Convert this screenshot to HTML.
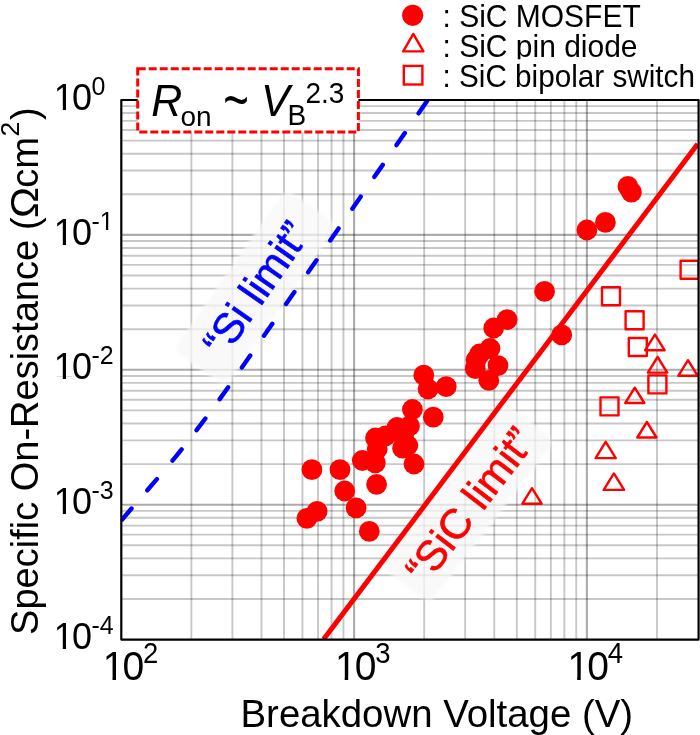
<!DOCTYPE html>
<html><head><meta charset="utf-8"><style>
html,body{margin:0;padding:0;background:#fff;width:700px;height:735px;overflow:hidden}
svg{display:block}
text{font-family:"Liberation Sans",Arial,sans-serif;fill:#000}
</style></head><body>
<svg width="700" height="735" viewBox="0 0 700 735">
<defs>
<filter id="glow" x="-30%" y="-60%" width="160%" height="220%"><feGaussianBlur stdDeviation="1.8"/></filter>
<clipPath id="plot"><rect x="121.3" y="100.0" width="576.7" height="539.6"/></clipPath>
</defs>
<rect width="700" height="735" fill="#fff"/>
<g id="grid">
<line x1="191.38" y1="100.0" x2="191.38" y2="639.6" stroke="#000" stroke-opacity="0.22" stroke-width="1.9"/>
<line x1="232.37" y1="100.0" x2="232.37" y2="639.6" stroke="#000" stroke-opacity="0.22" stroke-width="1.9"/>
<line x1="261.46" y1="100.0" x2="261.46" y2="639.6" stroke="#000" stroke-opacity="0.22" stroke-width="1.9"/>
<line x1="284.02" y1="100.0" x2="284.02" y2="639.6" stroke="#000" stroke-opacity="0.22" stroke-width="1.9"/>
<line x1="302.45" y1="100.0" x2="302.45" y2="639.6" stroke="#000" stroke-opacity="0.22" stroke-width="1.9"/>
<line x1="318.04" y1="100.0" x2="318.04" y2="639.6" stroke="#000" stroke-opacity="0.22" stroke-width="1.9"/>
<line x1="331.54" y1="100.0" x2="331.54" y2="639.6" stroke="#000" stroke-opacity="0.22" stroke-width="1.9"/>
<line x1="343.45" y1="100.0" x2="343.45" y2="639.6" stroke="#000" stroke-opacity="0.22" stroke-width="1.9"/>
<line x1="424.18" y1="100.0" x2="424.18" y2="639.6" stroke="#000" stroke-opacity="0.22" stroke-width="1.9"/>
<line x1="465.17" y1="100.0" x2="465.17" y2="639.6" stroke="#000" stroke-opacity="0.22" stroke-width="1.9"/>
<line x1="494.26" y1="100.0" x2="494.26" y2="639.6" stroke="#000" stroke-opacity="0.22" stroke-width="1.9"/>
<line x1="516.82" y1="100.0" x2="516.82" y2="639.6" stroke="#000" stroke-opacity="0.22" stroke-width="1.9"/>
<line x1="535.25" y1="100.0" x2="535.25" y2="639.6" stroke="#000" stroke-opacity="0.22" stroke-width="1.9"/>
<line x1="550.84" y1="100.0" x2="550.84" y2="639.6" stroke="#000" stroke-opacity="0.22" stroke-width="1.9"/>
<line x1="564.34" y1="100.0" x2="564.34" y2="639.6" stroke="#000" stroke-opacity="0.22" stroke-width="1.9"/>
<line x1="576.25" y1="100.0" x2="576.25" y2="639.6" stroke="#000" stroke-opacity="0.22" stroke-width="1.9"/>
<line x1="656.98" y1="100.0" x2="656.98" y2="639.6" stroke="#000" stroke-opacity="0.22" stroke-width="1.9"/>
<line x1="354.10" y1="100.0" x2="354.10" y2="639.6" stroke="#000" stroke-opacity="0.33" stroke-width="2.1"/>
<line x1="586.90" y1="100.0" x2="586.90" y2="639.6" stroke="#000" stroke-opacity="0.33" stroke-width="2.1"/>
<line x1="121.3" y1="598.99" x2="698.0" y2="598.99" stroke="#000" stroke-opacity="0.22" stroke-width="1.9"/>
<line x1="121.3" y1="575.24" x2="698.0" y2="575.24" stroke="#000" stroke-opacity="0.22" stroke-width="1.9"/>
<line x1="121.3" y1="558.38" x2="698.0" y2="558.38" stroke="#000" stroke-opacity="0.22" stroke-width="1.9"/>
<line x1="121.3" y1="545.31" x2="698.0" y2="545.31" stroke="#000" stroke-opacity="0.22" stroke-width="1.9"/>
<line x1="121.3" y1="534.63" x2="698.0" y2="534.63" stroke="#000" stroke-opacity="0.22" stroke-width="1.9"/>
<line x1="121.3" y1="525.60" x2="698.0" y2="525.60" stroke="#000" stroke-opacity="0.22" stroke-width="1.9"/>
<line x1="121.3" y1="517.77" x2="698.0" y2="517.77" stroke="#000" stroke-opacity="0.22" stroke-width="1.9"/>
<line x1="121.3" y1="510.87" x2="698.0" y2="510.87" stroke="#000" stroke-opacity="0.22" stroke-width="1.9"/>
<line x1="121.3" y1="464.09" x2="698.0" y2="464.09" stroke="#000" stroke-opacity="0.22" stroke-width="1.9"/>
<line x1="121.3" y1="440.34" x2="698.0" y2="440.34" stroke="#000" stroke-opacity="0.22" stroke-width="1.9"/>
<line x1="121.3" y1="423.48" x2="698.0" y2="423.48" stroke="#000" stroke-opacity="0.22" stroke-width="1.9"/>
<line x1="121.3" y1="410.41" x2="698.0" y2="410.41" stroke="#000" stroke-opacity="0.22" stroke-width="1.9"/>
<line x1="121.3" y1="399.73" x2="698.0" y2="399.73" stroke="#000" stroke-opacity="0.22" stroke-width="1.9"/>
<line x1="121.3" y1="390.70" x2="698.0" y2="390.70" stroke="#000" stroke-opacity="0.22" stroke-width="1.9"/>
<line x1="121.3" y1="382.87" x2="698.0" y2="382.87" stroke="#000" stroke-opacity="0.22" stroke-width="1.9"/>
<line x1="121.3" y1="375.97" x2="698.0" y2="375.97" stroke="#000" stroke-opacity="0.22" stroke-width="1.9"/>
<line x1="121.3" y1="329.19" x2="698.0" y2="329.19" stroke="#000" stroke-opacity="0.22" stroke-width="1.9"/>
<line x1="121.3" y1="305.44" x2="698.0" y2="305.44" stroke="#000" stroke-opacity="0.22" stroke-width="1.9"/>
<line x1="121.3" y1="288.58" x2="698.0" y2="288.58" stroke="#000" stroke-opacity="0.22" stroke-width="1.9"/>
<line x1="121.3" y1="275.51" x2="698.0" y2="275.51" stroke="#000" stroke-opacity="0.22" stroke-width="1.9"/>
<line x1="121.3" y1="264.83" x2="698.0" y2="264.83" stroke="#000" stroke-opacity="0.22" stroke-width="1.9"/>
<line x1="121.3" y1="255.80" x2="698.0" y2="255.80" stroke="#000" stroke-opacity="0.22" stroke-width="1.9"/>
<line x1="121.3" y1="247.97" x2="698.0" y2="247.97" stroke="#000" stroke-opacity="0.22" stroke-width="1.9"/>
<line x1="121.3" y1="241.07" x2="698.0" y2="241.07" stroke="#000" stroke-opacity="0.22" stroke-width="1.9"/>
<line x1="121.3" y1="194.29" x2="698.0" y2="194.29" stroke="#000" stroke-opacity="0.22" stroke-width="1.9"/>
<line x1="121.3" y1="170.54" x2="698.0" y2="170.54" stroke="#000" stroke-opacity="0.22" stroke-width="1.9"/>
<line x1="121.3" y1="153.68" x2="698.0" y2="153.68" stroke="#000" stroke-opacity="0.22" stroke-width="1.9"/>
<line x1="121.3" y1="140.61" x2="698.0" y2="140.61" stroke="#000" stroke-opacity="0.22" stroke-width="1.9"/>
<line x1="121.3" y1="129.93" x2="698.0" y2="129.93" stroke="#000" stroke-opacity="0.22" stroke-width="1.9"/>
<line x1="121.3" y1="120.90" x2="698.0" y2="120.90" stroke="#000" stroke-opacity="0.22" stroke-width="1.9"/>
<line x1="121.3" y1="113.07" x2="698.0" y2="113.07" stroke="#000" stroke-opacity="0.22" stroke-width="1.9"/>
<line x1="121.3" y1="106.17" x2="698.0" y2="106.17" stroke="#000" stroke-opacity="0.22" stroke-width="1.9"/>
<line x1="121.3" y1="504.70" x2="698.0" y2="504.70" stroke="#000" stroke-opacity="0.33" stroke-width="2.1"/>
<line x1="121.3" y1="369.80" x2="698.0" y2="369.80" stroke="#000" stroke-opacity="0.33" stroke-width="2.1"/>
<line x1="121.3" y1="234.90" x2="698.0" y2="234.90" stroke="#000" stroke-opacity="0.33" stroke-width="2.1"/>
</g>
<!-- glows -->
<g clip-path="url(#plot)">
<g transform="translate(224.6,359) rotate(-55.2)"><rect x="-22.4" y="-46.9" width="197" height="63.5" rx="9" fill="#f8f8f8" opacity="0.73" filter="url(#glow)"/></g>
<g transform="translate(425.9,586) rotate(-52.5)"><rect x="-12" y="-48.6" width="206" height="62.5" rx="9" fill="#f8f8f8" opacity="0.73" filter="url(#glow)"/></g>
</g>
<!-- Si limit dashed -->
<path d="M121.3,520.6 C140,498 165,471 189,440 S 223.6,393.6 229.4,385.5 L427.5,100.5" fill="none" stroke="#0000ff" stroke-width="4.4" stroke-linecap="round" stroke-dasharray="14.6 24.1" stroke-dashoffset="-1.5" clip-path="url(#plot)"/>
<!-- SiC limit -->
<line x1="323.6" y1="639.3" x2="697.7" y2="143.9" stroke="#ff0000" stroke-width="5" clip-path="url(#plot)"/>
<!-- rotated labels -->
<text transform="translate(224.6,359) rotate(-55.2)" font-size="42" style="fill:#0000ff;stroke:#0000ff;stroke-width:0.6">“Si limit”</text>
<text transform="translate(425.9,586) rotate(-52.5)" font-size="42" style="fill:#ff0000;stroke:#ff0000;stroke-width:0.6">“SiC limit”</text>
<!-- markers -->
<g fill="#ff0000" clip-path="url(#plot)">
<circle cx="311.9" cy="469.7" r="10.4"/>
<circle cx="340.0" cy="469.7" r="10.4"/>
<circle cx="344.7" cy="491.0" r="10.4"/>
<circle cx="356.1" cy="507.9" r="10.4"/>
<circle cx="369.3" cy="531.4" r="10.4"/>
<circle cx="306.9" cy="518.3" r="10.4"/>
<circle cx="317.1" cy="511.4" r="10.4"/>
<circle cx="376.6" cy="484.3" r="10.4"/>
<circle cx="362.3" cy="460.5" r="10.4"/>
<circle cx="375.3" cy="462.8" r="10.4"/>
<circle cx="375.5" cy="438.0" r="10.4"/>
<circle cx="385.5" cy="436.0" r="10.4"/>
<circle cx="377.2" cy="449.0" r="10.4"/>
<circle cx="397.0" cy="427.5" r="10.4"/>
<circle cx="407.8" cy="445.5" r="10.4"/>
<circle cx="402.6" cy="448.2" r="10.4"/>
<circle cx="409.5" cy="426.0" r="10.4"/>
<circle cx="403.5" cy="437.0" r="10.4"/>
<circle cx="476.0" cy="360.0" r="10.4"/>
<circle cx="414.0" cy="464.0" r="10.4"/>
<circle cx="412.4" cy="409.5" r="10.4"/>
<circle cx="433.3" cy="417.1" r="10.4"/>
<circle cx="423.8" cy="375.2" r="10.4"/>
<circle cx="428.1" cy="389.0" r="10.4"/>
<circle cx="446.2" cy="386.7" r="10.4"/>
<circle cx="507.1" cy="319.7" r="10.4"/>
<circle cx="493.7" cy="328.0" r="10.4"/>
<circle cx="490.0" cy="348.5" r="10.4"/>
<circle cx="479.6" cy="354.0" r="10.4"/>
<circle cx="475.3" cy="368.7" r="10.4"/>
<circle cx="498.0" cy="365.6" r="10.4"/>
<circle cx="488.8" cy="380.3" r="10.4"/>
<circle cx="544.6" cy="291.4" r="10.4"/>
<circle cx="561.7" cy="334.9" r="10.4"/>
<circle cx="586.9" cy="230.0" r="10.4"/>
<circle cx="605.4" cy="222.4" r="10.4"/>
<circle cx="627.9" cy="186.4" r="10.4"/>
<circle cx="631.4" cy="192.1" r="10.4"/>
</g>
<g fill="none" stroke="#ff0000" stroke-width="2.4" stroke-linejoin="round" clip-path="url(#plot)">
<rect x="602.0" y="287.2" width="18.0" height="18.0"/>
<rect x="625.6" y="311.2" width="18.0" height="18.0"/>
<rect x="628.8" y="338.0" width="18.0" height="18.0"/>
<rect x="680.6" y="260.7" width="18.0" height="18.0"/>
<rect x="648.4" y="375.4" width="18.0" height="18.0"/>
<rect x="600.5" y="397.4" width="18.0" height="18.0"/>
<path d="M654.9,334.6 L664.6,350.2 L645.2,350.2 Z"/>
<path d="M657.6,357.0 L667.3,372.6 L647.9,372.6 Z"/>
<path d="M688.0,360.2 L697.7,375.8 L678.3,375.8 Z"/>
<path d="M634.8,387.7 L644.3,403.0 L625.3,403.0 Z"/>
<path d="M646.9,422.0 L656.5,437.5 L637.3,437.5 Z"/>
<path d="M605.7,441.8 L615.8,458.1 L595.6,458.1 Z"/>
<path d="M613.9,473.4 L624.1,489.9 L603.7,489.9 Z"/>
<path d="M532.0,488.2 L541.6,503.7 L522.4,503.7 Z"/>
</g>
<!-- axes box -->
<rect x="121.3" y="100.0" width="577.30" height="539.6" fill="none" stroke="#000" stroke-width="2.2" stroke-linejoin="round"/>
<!-- formula box -->
<rect x="137.7" y="68.8" width="220.7" height="63.2" fill="#fff" stroke="#ff0000" stroke-width="3" stroke-dasharray="8 3"/>
<text x="151.2" y="116" font-size="43" font-style="italic" transform="matrix(1 0 0 1.04 0 -4.640)">R</text>
<text x="180.5" y="125.6" font-size="28">on</text>
<text transform="translate(236,100.6) scale(1.02,1.42)" font-size="43" text-anchor="middle" y="14.6">~</text>
<text x="261" y="116" font-size="43" font-style="italic" transform="matrix(1 0 0 1.04 0 -4.640)">V</text>
<text x="287.5" y="125" font-size="28" transform="matrix(1 0 0 1.04 0 -5.000)">B</text>
<text x="305.5" y="102.6" font-size="28" transform="matrix(1 0 0 1.04 0 -4.104)">2.3</text>
<!-- legend -->
<circle cx="412.7" cy="15.3" r="10.6" fill="#ff0000"/>
<path d="M413.3,33.9 L423.4,51.4 L403.2,51.4 Z" fill="none" stroke="#ff0000" stroke-width="2.4" stroke-linejoin="round"/>
<rect x="403.8" y="65.9" width="18.6" height="18.6" fill="none" stroke="#ff0000" stroke-width="2.4"/>
<text x="442.5" y="27.3" font-size="30" transform="matrix(1 0 0 1.04 0 -1.092)">: SiC MOSFET</text>
<text x="442.5" y="57.0" font-size="30" transform="matrix(1 0 0 1.04 0 -2.280)">: SiC pin diode</text>
<rect x="514" y="59.3" width="22" height="4.5" fill="#fff"/>
<text x="442.5" y="87.0" font-size="29.7" transform="matrix(1 0 0 1.05 0 -4.350)">: SiC bipolar switch</text>
<!-- y tick labels -->
<g font-size="36">
<text y="109.9" transform="matrix(1 0 0 1.04 0 -4.396)"><tspan x="53.80">1</tspan><tspan x="72.02">0</tspan><tspan font-size="25" dx="-0.6" dy="-14.6">0</tspan></text>
<text y="244.7" transform="matrix(1 0 0 1.04 0 -9.788)"><tspan x="53.80">1</tspan><tspan x="72.02">0</tspan><tspan font-size="25" dx="-0.6" dy="-14.6">-1</tspan></text>
<text y="379.5" transform="matrix(1 0 0 1.04 0 -15.180)"><tspan x="53.80">1</tspan><tspan x="72.02">0</tspan><tspan font-size="25" dx="-0.6" dy="-14.6">-2</tspan></text>
<text y="514.2" transform="matrix(1 0 0 1.04 0 -20.568)"><tspan x="53.80">1</tspan><tspan x="72.02">0</tspan><tspan font-size="25" dx="-0.6" dy="-14.6">-3</tspan></text>
<text y="649" transform="matrix(1 0 0 1.04 0 -25.960)"><tspan x="53.80">1</tspan><tspan x="72.02">0</tspan><tspan font-size="25" dx="-0.6" dy="-14.6">-4</tspan></text>
</g>
<g font-size="39">
<text y="680" transform="matrix(1 0 0 1.04 0 -27.200)"><tspan x="102.75">1</tspan><tspan x="122.48">0</tspan><tspan font-size="27.5" dx="-1.1" dy="-15.9">2</tspan></text>
<text y="680" transform="matrix(1 0 0 1.04 0 -27.200)"><tspan x="334.95">1</tspan><tspan x="354.68">0</tspan><tspan font-size="27.5" dx="-1.1" dy="-15.9">3</tspan></text>
<text y="680" transform="matrix(1 0 0 1.04 0 -27.200)"><tspan x="567.45">1</tspan><tspan x="587.18">0</tspan><tspan font-size="27.5" dx="-1.1" dy="-15.9">4</tspan></text>
</g>
<!-- hide Liberation foot serif on digit 1 (Arial-style 1 in reference) -->
<rect x="55.60" y="106.59" width="7.20" height="3.81" fill="#fff"/><rect x="66.04" y="106.59" width="6.84" height="3.81" fill="#fff"/>
<rect x="55.60" y="241.39" width="7.20" height="3.81" fill="#fff"/><rect x="66.04" y="241.39" width="6.84" height="3.81" fill="#fff"/>
<rect x="55.60" y="376.19" width="7.20" height="3.81" fill="#fff"/><rect x="66.04" y="376.19" width="6.84" height="3.81" fill="#fff"/>
<rect x="55.60" y="510.89" width="7.20" height="3.81" fill="#fff"/><rect x="66.04" y="510.89" width="6.84" height="3.81" fill="#fff"/>
<rect x="55.60" y="645.69" width="7.20" height="3.81" fill="#fff"/><rect x="66.04" y="645.69" width="6.84" height="3.81" fill="#fff"/>
<rect x="101.01" y="227.07" width="5.00" height="2.95" fill="#fff"/><rect x="108.26" y="227.07" width="4.75" height="2.95" fill="#fff"/>
<rect x="104.70" y="676.46" width="7.80" height="4.04" fill="#fff"/><rect x="116.01" y="676.46" width="7.41" height="4.04" fill="#fff"/>
<rect x="336.90" y="676.46" width="7.80" height="4.04" fill="#fff"/><rect x="348.21" y="676.46" width="7.41" height="4.04" fill="#fff"/>
<rect x="569.40" y="676.46" width="7.80" height="4.04" fill="#fff"/><rect x="580.71" y="676.46" width="7.41" height="4.04" fill="#fff"/>
<!-- axis titles -->
<text x="240.5" y="726.9" font-size="38.4" transform="matrix(1 0 0 1.01 0 -7.269)">Breakdown Voltage (V)</text>
<g transform="translate(38.3,634.3) rotate(-90)">
<text x="-0.6" y="0" font-size="38.0">Specific On-Resistance</text>
<text x="404.3" y="0" font-size="38.25">(</text>
<text transform="translate(416.4,0) scale(1.09,1)" font-size="38.25">Ω</text>
<text x="446.5" y="0" font-size="38.25">cm</text>
<text x="497.9" y="-19" font-size="26.5">2</text>
<text x="514.3" y="0" font-size="38.25">)</text>
</g>
</svg>
</body></html>
